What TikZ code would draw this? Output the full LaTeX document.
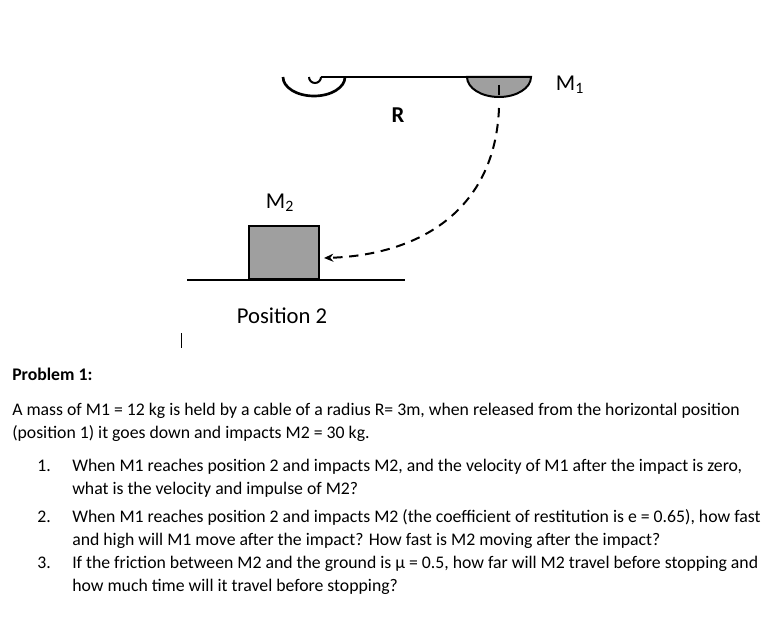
\documentclass[tikz,border=0pt]{standalone}
\usepackage{fontspec}
\setmainfont{Carlito}
\usetikzlibrary{arrows.meta}
\begin{document}
\begin{tikzpicture}[x=0.75pt,y=-0.75pt,
  txt/.style={anchor=base west,inner sep=0pt,font=\fontsize{13.3pt}{15pt}\selectfont},
  lbl/.style={inner sep=0pt,font=\fontsize{17pt}{19pt}\selectfont},
  thick line/.style={line width=2pt}]
\useasboundingbox (0,0) rectangle (781,631);
% pivot
\draw[thick line] (283,77) arc[start angle=180,end angle=0,x radius=31,y radius=19];
\fill[white] (309,70) rectangle (321,77);
\draw[line width=1.5pt] (309,77) arc[start angle=180,end angle=0,radius=6];
\draw[thick line] (321,77) -- (470,77);
% M1
\filldraw[fill=gray!75,draw=black,line width=1.5pt] (467,77) arc[start angle=180,end angle=0,x radius=32,y radius=20] -- cycle;
\coordinate (t1) at (499,85);
\coordinate (t2) at (499,95);
\draw[line width=1.5pt] (t1) -- (t2);
% M2
\node[draw=black,fill=gray!75,line width=1.5pt,minimum width=70*0.75pt,minimum height=53*0.75pt,inner sep=0pt] (m2) at (284,252.5) {};
\coordinate (g1) at (187,280);
\coordinate (g2) at (405,280);
\draw[thick line] (g1) -- (g2);
\coordinate (s) at (499,108);
\coordinate (e) at (324,258);
\draw[line width=1.5pt,dash pattern=on 7pt off 5pt,-{Stealth[length=7pt,width=6pt]}] (s) .. controls (495,210) and (420,255) .. (e);
\node[lbl] (l1) at (570,85) {M\textsubscript{1}};
\node[lbl] (lr) at (398,115) {\textbf{R}};
\node[lbl] (l2) at (280,203) {M\textsubscript{2}};
\node[lbl] (lp) at (282,316) {Position 2};
\coordinate (c1) at (181,333);
\coordinate (c2) at (181,348);
\draw[line width=0.6pt] (c1) -- (c2);
% text
\node[txt] (p) at (12,380) {\textbf{Problem 1:}};
\node[txt] (a1) at (12,415) {A mass of M1 = 12 kg is held by a cable of a radius R= 3m, when released from the horizontal position};
\node[txt] (a2) at (12,438) {(position 1) it goes down and impacts M2 = 30 kg.};
\node[txt] (n1) at (37,471) {1.};
\node[txt] (b1) at (72,471) {When M1 reaches position 2 and impacts M2, and the velocity of M1 after the impact is zero,};
\node[txt] (b2) at (72,494) {what is the velocity and impulse of M2?};
\node[txt] (n2) at (37,522) {2.};
\node[txt] (c1t) at (72,522) {When M1 reaches position 2 and impacts M2 (the coefficient of restitution is e = 0.65), how fast};
\node[txt] (c2t) at (72,545) {and high will M1 move after the impact? How fast is M2 moving after the impact?};
\node[txt] (n3) at (37,568) {3.};
\node[txt] (d1) at (72,568) {If the friction between M2 and the ground is μ = 0.5, how far will M2 travel before stopping and};
\node[txt] (d2) at (72,591) {how much time will it travel before stopping?};
\end{tikzpicture}
\end{document}
